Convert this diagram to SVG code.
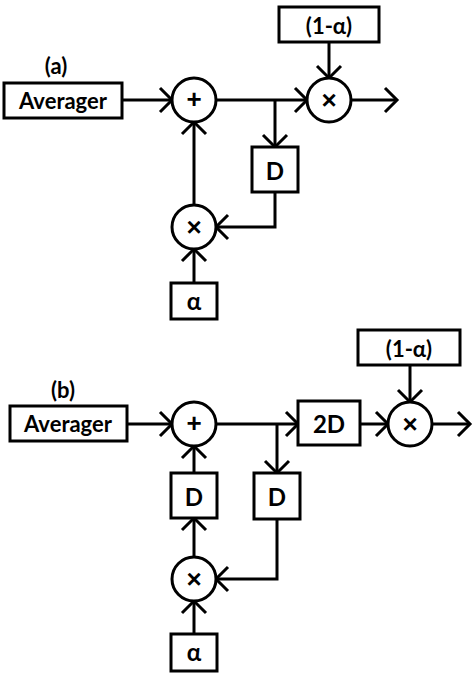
<svg xmlns="http://www.w3.org/2000/svg" width="474" height="681" viewBox="0 0 474 681">
<style>
.box{fill:#fff;stroke:#000;stroke-width:3}
.op{fill:#fff;stroke:#000;stroke-width:3}
.t{font-family:Lato,"Open Sans","Liberation Sans",sans-serif;font-weight:bold;font-size:22px;fill:#000;text-anchor:middle;dominant-baseline:central}
.d{font-size:24px}
.s{font-family:"Liberation Sans",Lato,sans-serif;font-weight:bold;font-size:26px;fill:#000;text-anchor:middle;dominant-baseline:central}
.c{fill:none;stroke:#000;stroke-width:3;marker-end:url(#ah)}
</style>
<defs>
<marker id="ah" markerUnits="userSpaceOnUse" markerWidth="30" markerHeight="30" viewBox="-15 -15 30 30" refX="0" refY="0" orient="auto">
<path d="M-12,-12 L0,0 L-12,12" fill="none" stroke="#000" stroke-width="3"/>
</marker>
</defs>
<rect width="474" height="681" fill="#fff"/>
<g id="connectors">
<path class="c" d="M122,100 H172"/>
<path class="c" d="M216,100 H307"/>
<path class="c" d="M275,100 V147"/>
<path class="c" d="M351,100 H397"/>
<path class="c" d="M329,42 V78"/>
<path class="c" d="M275,192 V227 H216"/>
<path class="c" d="M194,205 V122"/>
<path class="c" d="M194,283 V249"/>
<path class="c" d="M127,424 H172"/>
<path class="c" d="M216,424 H298"/>
<path class="c" d="M277,424 V473"/>
<path class="c" d="M360,424 H388"/>
<path class="c" d="M432,424 H470"/>
<path class="c" d="M410,365 V402"/>
<path class="c" d="M277,519 V579 H216"/>
<path class="c" d="M194,557 V518"/>
<path class="c" d="M194,473 V446"/>
<path class="c" d="M194,634 V601"/>
</g>
<text class="t" x="56" y="65">(a)</text>
<g id="a_averager"><rect class="box" x="4" y="83" width="118" height="35"/><text class="t" x="63" y="100">Averager</text></g>
<g id="a_plus"><circle class="op" cx="194" cy="100" r="22"/><text class="s" x="194" y="99">+</text></g>
<g id="a_mult_out"><circle class="op" cx="329" cy="100" r="22"/><text class="s" x="329" y="100">×</text></g>
<g id="a_one_minus_alpha"><rect class="box" x="279" y="7" width="100" height="35"/><text class="t" x="329" y="25">(1-α)</text></g>
<g id="a_D"><rect class="box" x="252" y="147" width="46" height="45"/><text class="t d" x="275" y="170">D</text></g>
<g id="a_mult_fb"><circle class="op" cx="194" cy="227" r="22"/><text class="s" x="194" y="227">×</text></g>
<g id="a_alpha"><rect class="box" x="171" y="283" width="46" height="36"/><text class="t d" x="194" y="300">α</text></g>
<text class="t" x="63" y="389">(b)</text>
<g id="b_averager"><rect class="box" x="10" y="406" width="117" height="35"/><text class="t" x="68" y="423">Averager</text></g>
<g id="b_plus"><circle class="op" cx="194" cy="424" r="22"/><text class="s" x="194" y="423">+</text></g>
<g id="b_2D"><rect class="box" x="298" y="401" width="62" height="44"/><text class="t d" x="329" y="423">2D</text></g>
<g id="b_mult_out"><circle class="op" cx="410" cy="424" r="22"/><text class="s" x="410" y="424">×</text></g>
<g id="b_one_minus_alpha"><rect class="box" x="358" y="330" width="102" height="35"/><text class="t" x="409" y="348">(1-α)</text></g>
<g id="b_D_left"><rect class="box" x="171" y="473" width="46" height="45"/><text class="t d" x="194" y="496">D</text></g>
<g id="b_D_right"><rect class="box" x="254" y="473" width="46" height="46"/><text class="t d" x="277" y="496">D</text></g>
<g id="b_mult_fb"><circle class="op" cx="194" cy="579" r="22"/><text class="s" x="194" y="579">×</text></g>
<g id="b_alpha"><rect class="box" x="171" y="634" width="46" height="37"/><text class="t d" x="194" y="651">α</text></g>
</svg>
